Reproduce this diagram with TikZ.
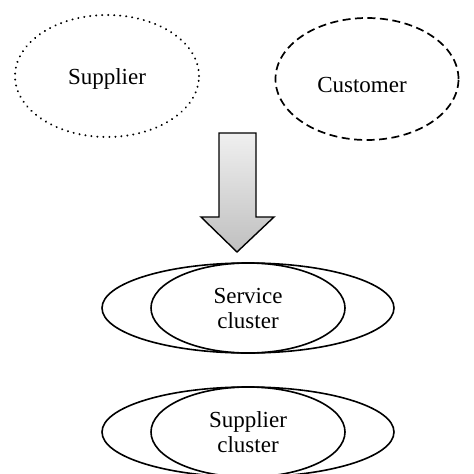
\documentclass[tikz,border=0pt]{standalone}
\usepackage{fontspec}
\setmainfont{Liberation Serif}
\usetikzlibrary{shapes.geometric}
\begin{document}
\begin{tikzpicture}[x=1pt,y=-1pt,
  oval/.style={ellipse, draw=black, line width=1.6pt, inner sep=0pt, align=center,
    font=\fontsize{23}{25}\selectfont},
  dotoval/.style={oval, line width=2.2pt, dash pattern=on 0.01pt off 6pt, line cap=round},
  dashoval/.style={oval, line width=1.7pt, dash pattern=on 8pt off 4.5pt},
  outeroval/.style={oval, minimum width=292pt, minimum height=90pt},
  inneroval/.style={oval, minimum width=194pt, minimum height=90pt},
  bigarrow/.style={draw=black, line width=1.4pt, top color=gray!12, bottom color=gray!50}
]
\useasboundingbox (0,0) rectangle (474,474);
\node[dotoval, minimum width=184pt, minimum height=122pt] (sup) at (107,76) {};
\node at (107,79) {\fontsize{23}{25}\selectfont Supplier};
\node[dashoval, minimum width=183pt, minimum height=122pt] (cus) at (367,79) {};
\node at (362,85) {\fontsize{23}{25}\selectfont Customer};
\draw[bigarrow] (219,133) -- (256,133) -- (256,217) -- (274,217) -- (237,252) -- (201,217) -- (219,217) -- cycle;
\node[outeroval] (svcout) at (248,308) {};
\node[inneroval] (svcin) at (248,308) {Service\\cluster};
\node[outeroval] (supout) at (248,432) {};
\node[inneroval] (supin) at (248,432) {Supplier\\cluster};
\end{tikzpicture}
\end{document}
